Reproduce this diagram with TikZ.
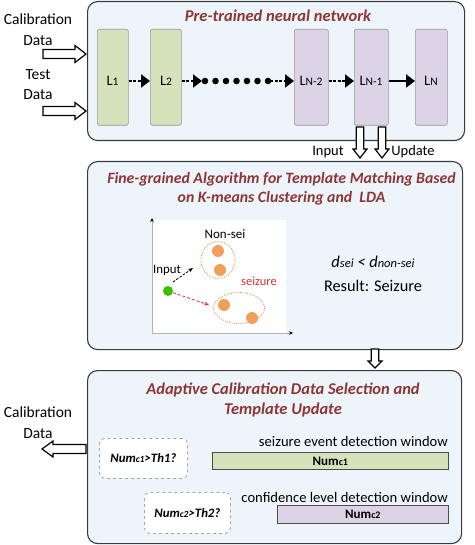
\documentclass[tikz,border=0pt]{standalone}
\usepackage{fontspec}
\setmainfont{Carlito}
\usetikzlibrary{arrows.meta}
\definecolor{boxfill}{HTML}{EEF5FA}
\definecolor{boxdraw}{HTML}{3A3A3A}
\definecolor{titlered}{HTML}{8E3535}
\definecolor{lgreen}{HTML}{D5E2BB}
\definecolor{lpurple}{HTML}{DCD4E6}
\definecolor{dotorange}{HTML}{F0A05A}
\definecolor{ellorange}{HTML}{DE9457}
\definecolor{sezred}{HTML}{D03535}
\newcommand{\fs}[1]{\fontsize{#1}{#1}\selectfont}
\begin{document}
\begin{tikzpicture}[x=1pt,y=-1pt,
  bigbox/.style={draw=boxdraw, line width=1.1pt, fill=boxfill, rounded corners=10pt, anchor=north west, inner sep=0pt},
  layer/.style={draw=gray!80, line width=0.6pt, rounded corners=2pt, anchor=north west, minimum width=31pt, minimum height=96pt, inner sep=0pt},
  title/.style={text=titlered, font=\bfseries\itshape, align=center},
  plain/.style={align=center, inner sep=0pt},
  larrow/.style={line width=2.6pt, dash pattern=on 3pt off 1.5pt, -{Triangle[length=9pt,width=13pt]}},
  solidarrow/.style={line width=2.6pt, -{Triangle[length=9pt,width=13pt]}},
  cluster/.style={draw=ellorange, line width=0.9pt, dash pattern=on 1pt off 1.3pt},
  odot/.style={circle, fill=dotorange, minimum size=12pt, inner sep=0pt},
  dbox/.style={draw=gray!70, dashed, line width=0.8pt, rounded corners=5pt, fill=white, anchor=north west, inner sep=0pt},
  bar/.style={draw=gray!60!black, line width=0.7pt, anchor=north west, inner sep=0pt},
  pics/harrow/.style args={#1/#2/#3/#4}{code={
    \draw[line width=1.2pt, fill=white] (0,-#2) -- ({#1-#4},-#2) -- ({#1-#4},-#3) -- (#1,0) -- ({#1-#4},#3) -- ({#1-#4},#2) -- (0,#2) -- cycle;}}
]
\useasboundingbox (0,0) rectangle (474,545);

% ---------- Box 1 ----------
\node[bigbox, minimum width=377pt, minimum height=139pt] (b1) at (87,1) {};
\node[title, font=\fs{16.5}\bfseries\itshape] (t1) at (278,16) {Pre-trained neural network};

\node[layer, fill=lgreen] (l1) at (97,29) {};
\node[layer, fill=lgreen] (l2) at (150,29) {};
\node[layer, fill=lpurple, minimum width=34pt] (ln2) at (294,29) {};
\node[layer, fill=lpurple, minimum width=34pt] (ln1) at (354,29) {};
\node[layer, fill=lpurple, minimum width=32pt] (ln) at (415,29) {};

\node[font=\fs{14.5}] (tl1) at (112.5,81) {L\fs{11.5}1};
\node[font=\fs{14.5}] (tl2) at (166,81) {L\fs{11.5}2};
\node[font=\fs{14.5}] (tln2) at (311,81) {L\fs{11.5}N-2};
\node[font=\fs{14.5}] (tln1) at (371,81) {L\fs{11.5}N-1};
\node[font=\fs{14.5}] (tln) at (431,81) {L\fs{11.5}N};

\coordinate (d0) at (202,81);
\coordinate (d1) at (270,81);
\draw[larrow] (l1.east |- tl1) -- (l2.west |- tl2);
\draw[larrow] (l2.east |- tl2) -- (d0);
\foreach \i in {0,...,6} \fill (205+\i*10.5,81) circle (3.3pt);
\draw[larrow] (d1) -- (ln2.west |- tln2);
\draw[larrow] (ln2.east |- tln2) -- (ln1.west |- tln1);
\draw[solidarrow] (ln1.east |- tln1) -- (ln.west |- tln);

% left inputs
\node[plain, font=\fs{15.5}] (cal1) at (38,29.5) {Calibration\\[5pt]Data};
\node[plain, font=\fs{15.5}] (test) at (38,84.5) {Test\\[5pt]Data};
\pic at (43,54) {harrow={43/4.5/8.5/11}};
\pic at (43,111) {harrow={43/4.5/8.5/11}};

% outputs
\pic[rotate=-90] at (360,127) {harrow={31/3.8/7/9}};
\pic[rotate=-90] at (382,127) {harrow={31/3.8/7/9}};
\node[font=\fs{14.5}] (inlab) at (328,152) {Input};
\node[font=\fs{14.5}] (uplab) at (413,152) {Update};

% ---------- Box 2 ----------
\node[bigbox, minimum width=375pt, minimum height=188pt] (b2) at (87,161) {};
\node[title, font=\fs{15.8}\bfseries\itshape] (t2) at (281.5,189) {Fine-grained Algorithm for Template Matching Based\\[3pt]on K-means Clustering and\ \ LDA};

\fill[white] (152,220) rectangle (286,333);
\coordinate (orig) at (152,333);
\coordinate (ytop) at (152,218);
\coordinate (xend) at (293,333);
\draw[gray!60, line width=0.8pt, -{Stealth[black,length=4pt,width=3.5pt]}] (orig) -- (ytop);
\draw[gray!60, line width=0.8pt, -{Stealth[black,length=4pt,width=3.5pt]}] (orig) -- (xend);

\draw[cluster] (218,260) ellipse [x radius=17, y radius=18.5];
\draw[cluster] (239,308) ellipse [x radius=25.5, y radius=15.5];
\node[odot] (o1) at (218,251) {};
\node[odot] (o2) at (220,270) {};
\node[odot] (o3) at (224,305) {};
\node[odot] (o4) at (252,318) {};
\node[circle, fill=green!65!black!70!lime, minimum size=10pt, inner sep=0pt] (gin) at (168,291) {};
\node[font=\fs{13}] (nonsei) at (225,234) {Non-sei};
\node[font=\fs{12.8}] (inp) at (167,270) {Input};
\node[font=\fs{12.4}, text=sezred] (sz) at (259,281) {seizure};
\coordinate (a1) at (193,268);
\coordinate (a2) at (209,305);
\draw[black, line width=0.8pt, dash pattern=on 2.5pt off 1.5pt, -{Stealth[length=5pt,width=4pt]}] (173,282) -- (a1);
\draw[sezred, line width=0.8pt, dash pattern=on 3pt off 2pt, -{Stealth[length=5pt,width=4pt]}] (gin) -- (a2);

\node[font=\fs{16.5}\itshape] (dd) at (373,262) {d\fs{12.5}sei\fs{16.5} < d\fs{12.5}non-sei};
\node[font=\fs{16.3}] (res) at (373,286) {Result: Seizure};

\pic[rotate=-90] at (375,349) {harrow={19/3.8/7/7}};

% ---------- Box 3 ----------
\node[bigbox, minimum width=374pt, minimum height=173pt] (b3) at (87,370) {};
\node[title, font=\fs{16.5}\bfseries\itshape] (t3) at (283,400) {Adaptive Calibration Data Selection and\\[3pt]Template Update};

\node[plain, font=\fs{15.5}] (cal2) at (38,422.5) {Calibration\\[5pt]Data};
\pic[rotate=180] at (86,449) {harrow={44/4.5/8/11}};

\node[dbox, minimum width=88pt, minimum height=40pt] (db1) at (99,438) {};
\node[font=\fs{12.8}\bfseries\itshape] at (db1.center) {Num\fs{9.5}c1\fs{12.8}>Th1?};
\node[dbox, minimum width=86pt, minimum height=41pt] (db2) at (144,492) {};
\node[font=\fs{12.8}\bfseries\itshape] at (db2.center) {Num\fs{9.5}c2\fs{12.8}>Th2?};

\node[font=\fs{14.6}, anchor=east, inner sep=0pt] (sew) at (448,441) {seizure event detection window};
\node[bar, fill=lgreen, minimum width=236pt, minimum height=17pt] (bar1) at (212,452) {};
\node[font=\fs{13}\bfseries] at (bar1.center) {Num\fs{10}c1};
\node[font=\fs{14.6}, anchor=east, inner sep=0pt] (clw) at (448,497) {confidence level detection window};
\node[bar, fill=lpurple, minimum width=171pt, minimum height=18pt] (bar2) at (277,505) {};
\node[font=\fs{13}\bfseries] at (bar2.center) {Num\fs{10}c2};
\end{tikzpicture}
\end{document}
